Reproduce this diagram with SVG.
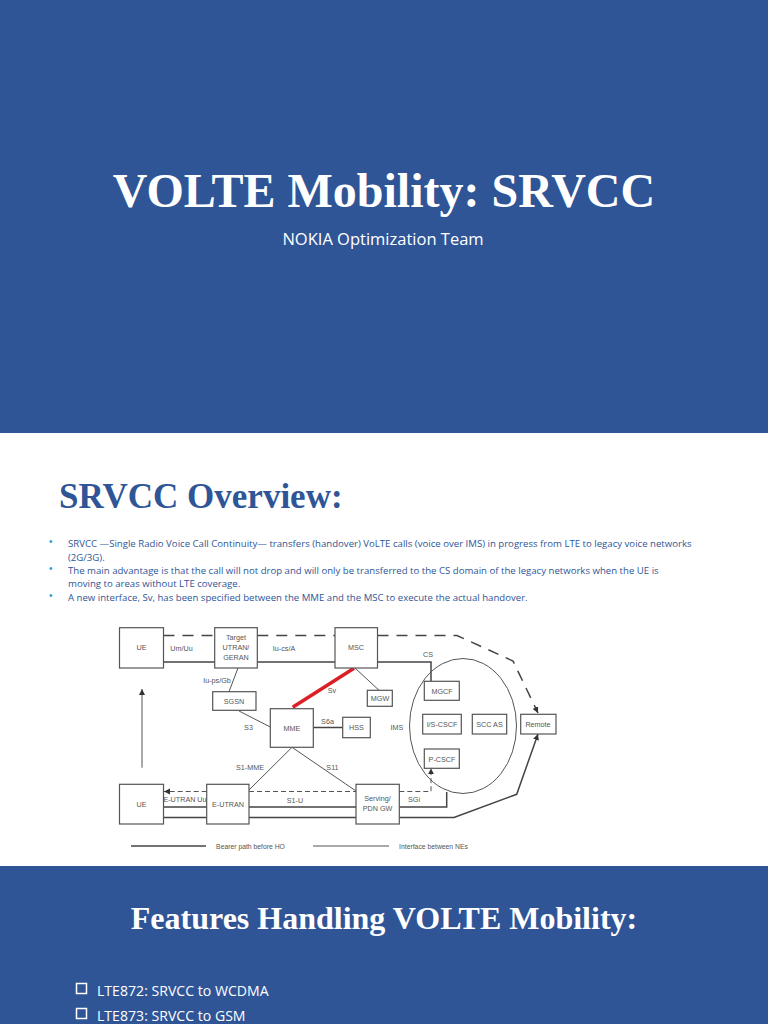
<svg xmlns="http://www.w3.org/2000/svg" width="768" height="1024" viewBox="0 0 768 1024">
<style>
.serif{font-family:"Liberation Serif","Times New Roman",serif;font-weight:bold}
.sans{font-family:"Open Sans","Noto Sans",sans-serif}
.b{font-family:"Open Sans","Noto Sans",sans-serif;font-size:9.620px;font-weight:500;fill:#2f5597}
.dot{font-family:"Liberation Sans",sans-serif;font-size:10px;fill:#2e9bd6}
.n rect{fill:#fff;stroke:#555;stroke-width:1.2}
.n text,.l{font-family:"Liberation Sans",Arial,sans-serif;font-size:7.200px;fill:#555;text-anchor:middle}
.c{fill:none;stroke:#555;stroke-width:1}
.t{fill:none;stroke:#444;stroke-width:1.500}
.d{fill:none;stroke:#444;stroke-width:1.500;stroke-dasharray:11 8}
.cb{fill:none;stroke:#fff;stroke-width:1.500}
</style>
<defs>
<marker id="a" markerUnits="userSpaceOnUse" markerWidth="7" markerHeight="7" refX="6" refY="3" orient="auto"><path d="M0 0L6 3L0 6z" fill="#333"/></marker>
</defs>
<rect width="768" height="1024" fill="#fff"/>
<rect width="768" height="433" fill="#2f5597"/>
<rect y="866" width="768" height="158" fill="#2f5597"/>
<text class="serif" x="384" y="207" font-size="48" fill="#fff" text-anchor="middle">VOLTE Mobility: SRVCC</text>
<text class="sans" x="383" y="245" font-size="16.500" fill="#fff" text-anchor="middle">NOKIA Optimization Team</text>
<text class="serif" x="59" y="508" font-size="35" fill="#2f5597">SRVCC Overview:</text>
<text class="dot" x="49" y="545">•</text>
<text class="b" x="68" y="546.500">SRVCC —Single Radio Voice Call Continuity— transfers (handover) VoLTE calls (voice over IMS) in progress from LTE to legacy voice networks</text>
<text class="b" x="68" y="560.500">(2G/3G).</text>
<text class="dot" x="49" y="572">•</text>
<text class="b" x="68" y="573.500">The main advantage is that the call will not drop and will only be transferred to the CS domain of the legacy networks when the UE is</text>
<text class="b" x="68" y="587">moving to areas without LTE coverage.</text>
<text class="dot" x="49" y="599">•</text>
<text class="b" x="68" y="600.500">A new interface, Sv, has been specified between the MME and the MSC to execute the actual handover.</text>
<g id="connectors">
<path class="d" d="M163.500 635.500H214.700M257.300 635.500H335M377.500 635.500H457L513 661L538 713" marker-end="url(#a)"/>
<path class="t" d="M163.500 662H214.700M257.300 662H335M377.500 662H431V681"/>
<path class="c" d="M238 668L229 691.700M239 711L270.300 727M355 668L379 690.300M292 747.300L249 790M292 747.300L356 791"/>
<path class="c" d="M142 767.700V689" marker-end="url(#a)"/>
<path d="M292.700 707.300L354 668.300" fill="none" stroke="#dc1f26" stroke-width="3.500"/>
<path class="t" d="M313.300 727.500H342.700"/>
<path class="c" stroke-dasharray="5 3" d="M206.700 791.500H164" marker-end="url(#a)"/>
<path class="c" stroke-dasharray="5 3" d="M249 791.500H356M399.300 791.500H431V768.300" marker-end="url(#a)"/>
<path class="t" d="M163.500 807H206.700M249 807H356M399.300 807H446.700V792M163.500 817.500H206.700M249 817.500H356M399.300 817.500H454L516.700 794.300L538 734" marker-end="url(#a)"/>
<path class="t" d="M131 846H206"/>
<path class="c" d="M313 846H389"/>
</g>
<ellipse id="ims" cx="463" cy="726" rx="53.500" ry="67.500" fill="none" stroke="#555" stroke-width="1"/>
<g class="n" id="ue-top"><rect x="119.500" y="627.700" width="44" height="40.300"/><text x="141.500" y="650">UE</text></g>
<g class="n" id="target"><rect x="214.700" y="627.700" width="42.600" height="40.300"/><text x="236" y="640">Target</text><text x="236" y="650">UTRAN/</text><text x="236" y="660">GERAN</text></g>
<g class="n" id="msc"><rect x="335" y="627.700" width="42.500" height="40.300"/><text x="356" y="650">MSC</text></g>
<g class="n" id="sgsn"><rect x="212.700" y="691.700" width="43.300" height="18.600"/><text x="234" y="704">SGSN</text></g>
<g class="n" id="mme"><rect x="270.300" y="708.700" width="43" height="38.600"/><text x="292" y="731">MME</text></g>
<g class="n" id="hss"><rect x="342.700" y="717.300" width="27.600" height="20.400"/><text x="356.500" y="730">HSS</text></g>
<g class="n" id="mgw"><rect x="367.300" y="690.300" width="25" height="16"/><text x="380" y="701">MGW</text></g>
<g class="n" id="mgcf"><rect x="424.300" y="681.300" width="35" height="19"/><text x="442" y="693.500">MGCF</text></g>
<g class="n" id="iscscf"><rect x="422.700" y="714.300" width="38.600" height="19.700"/><text x="442" y="727">I/S-CSCF</text></g>
<g class="n" id="sccas"><rect x="472.300" y="714.300" width="34.400" height="19.700"/><text x="489.500" y="727">SCC AS</text></g>
<g class="n" id="remote"><rect x="520.700" y="714.300" width="35.300" height="19.700"/><text x="538" y="727">Remote</text></g>
<g class="n" id="pcscf"><rect x="424.300" y="749" width="35" height="19.300"/><text x="442" y="761.500">P-CSCF</text></g>
<g class="n" id="ue-bottom"><rect x="119.500" y="784.300" width="44" height="39.700"/><text x="141.500" y="807">UE</text></g>
<g class="n" id="eutran"><rect x="206.700" y="784.300" width="42.300" height="39.700"/><text x="228" y="807">E-UTRAN</text></g>
<g class="n" id="gw"><rect x="356" y="784.300" width="43.300" height="39.700"/><text x="377.500" y="801">Serving/</text><text x="377.500" y="811">PDN GW</text></g>
<g id="labels">
<text class="l" x="181.500" y="651">Um/Uu</text>
<text class="l" x="284" y="651">Iu-cs/A</text>
<text class="l" x="217" y="683">Iu-ps/Gb</text>
<text class="l" x="332" y="693">Sv</text>
<text class="l" x="248.500" y="730">S3</text>
<text class="l" x="327.500" y="724">S6a</text>
<text class="l" x="397" y="730">IMS</text>
<text class="l" x="428" y="657">CS</text>
<text class="l" x="250" y="770">S1-MME</text>
<text class="l" x="332.500" y="770">S11</text>
<text class="l" x="185" y="802">E-UTRAN Uu</text>
<text class="l" x="295" y="803">S1-U</text>
<text class="l" x="414" y="802">SGi</text>
<text class="l" x="250.500" y="849" style="font-size:6.800px">Bearer path before HO</text>
<text class="l" x="433.500" y="849" style="font-size:6.800px">Interface between NEs</text>
</g>
<text class="serif" x="384" y="929" font-size="32" fill="#fff" text-anchor="middle">Features Handling VOLTE Mobility:</text>
<rect class="cb" x="76.500" y="983.500" width="10" height="10"/>
<text class="sans" x="97" y="996" font-size="14.100" fill="#fff">LTE872: SRVCC to WCDMA</text>
<rect class="cb" x="76.500" y="1008.500" width="10" height="10"/>
<text class="sans" x="97" y="1021" font-size="14.100" fill="#fff">LTE873: SRVCC to GSM</text>
</svg>
